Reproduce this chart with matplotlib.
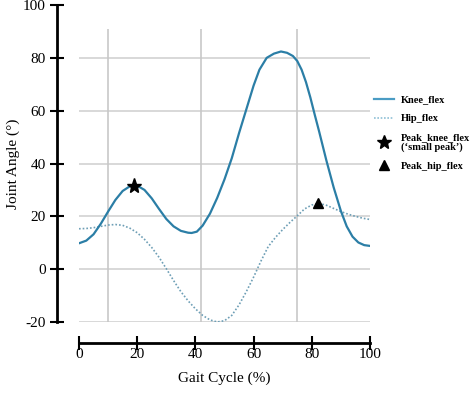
import numpy as np
import matplotlib.pyplot as plt
from matplotlib.lines import Line2D

# Knee flexion (deg) over the gait cycle (%)
knee_gait = [0, 2.5, 5, 7.5, 10, 12.5, 15, 17.5, 19, 20.5, 22.5, 25, 27.5, 30, 32.5, 35,
             37.5, 38.7, 40.5, 42.5, 45, 47.5, 50, 52.5, 55, 57.5, 60, 62, 64.5, 67, 69.4,
             71.5, 73.5, 75, 76.5, 78, 79.5, 81, 82.5, 85, 87.5, 90, 92, 94, 96, 98, 100]
knee_flex = [9.8, 10.8, 13.2, 17.2, 21.8, 26.2, 29.6, 31.4, 31.6, 31.3, 30.0, 26.8, 22.8,
             19.0, 16.2, 14.5, 13.8, 13.7, 14.2, 16.5, 21.0, 27.0, 34.0, 42.0, 51.5, 60.5,
             69.5, 75.5, 80.0, 81.6, 82.4, 81.9, 80.7, 78.8, 75.5, 70.8, 65.0, 58.5, 52.2,
             41.2, 31.0, 22.0, 16.2, 12.3, 10.1, 9.1, 8.8]

# Hip flexion (deg) over the gait cycle (%)
hip_gait = [0, 2.5, 5, 7.5, 10, 12.5, 15, 17.5, 20, 22.5, 25, 27.5, 30, 32.5, 35, 37.5, 40,
            42.5, 45, 47.5, 50, 52.5, 55, 57.5, 60, 62.5, 65, 67.5, 70, 72.5, 75, 77.5, 80,
            82.5, 85, 87.5, 90, 92.5, 95, 97.5, 100]
hip_flex = [15.3, 15.4, 15.7, 16.2, 16.7, 16.9, 16.6, 15.5, 13.8, 11.3, 8.2, 4.5, 0.2,
            -4.3, -8.5, -12.0, -15.0, -17.5, -19.2, -20.0, -19.5, -17.5, -13.5, -8.5, -3.0,
            3.0, 8.5, 12.0, 15.0, 17.7, 20.2, 22.8, 24.3, 24.9, 24.2, 23.0, 21.8, 20.8,
            20.0, 19.3, 18.8]

# Peaks
peak_knee = (19, 31.6)
peak_hip = (82, 24.9)

# Gait events (vertical lines)
events = [10, 42, 75]

xticks = [0, 20, 40, 60, 80, 100]
yticks = [-20, 0, 20, 40, 60, 80, 100]

knee_color = '#2b7ea6'
hip_color = '#6e9fb6'

plt.rcParams['font.family'] = ['Liberation Serif', 'DejaVu Serif']
plt.rcParams['axes.unicode_minus'] = False

W, H = 474, 399
fig = plt.figure(figsize=(W / 100, H / 100), dpi=100)
# axes box in pixels: x 79..370, y 5..322 (from top)
ax = fig.add_axes([79 / W, (H - 322) / H, 291 / W, 317 / H])
ax.set_xlim(0, 100)
ax.set_ylim(-20, 100)

# grid
ax.hlines(yticks[:-1], 0, 100, color='#d2d2d2', lw=1.2, zorder=0)
ax.vlines(events, -20, 91, color='#c8c8c8', lw=1.2, zorder=0)

ax.plot(knee_gait, knee_flex, color=knee_color, lw=1.6, zorder=3)
ax.plot(hip_gait, hip_flex, color=hip_color, lw=1.2, ls=(0, (1, 1.2)), zorder=2)
ax.plot(*peak_knee, marker='*', color='black', ms=11, ls='none', zorder=4)
ax.plot(*peak_hip, marker='^', color='black', ms=7, ls='none', zorder=4)

for s in ['top', 'right']:
    ax.spines[s].set_visible(False)
ax.spines['left'].set_position(('outward', 16))
ax.spines['bottom'].set_position(('outward', 15))
ax.spines['left'].set_bounds(-20, 100)
ax.spines['bottom'].set_bounds(0, 100)
for s in ['left', 'bottom']:
    ax.spines[s].set_linewidth(2)

ax.set_xticks(xticks)
ax.set_yticks(yticks)
ax.tick_params(direction='inout', length=10, width=1.5, labelsize=11)
ax.tick_params(axis='x', pad=-1)
ax.tick_params(axis='y', pad=3)
ax.set_xlabel('Gait Cycle (%)', fontsize=11)
ax.set_ylabel('Joint Angle (°)', fontsize=11)
ax.xaxis.set_label_coords(0.5, -0.155)
ax.yaxis.set_label_coords(-0.203, 0.5)

handles = [
    Line2D([], [], color='#4a9cc4', lw=1.6),
    Line2D([], [], color='#8fc0d6', lw=1.2, ls=(0, (1, 1))),
    Line2D([], [], marker='*', color='black', ms=10, ls='none'),
    Line2D([], [], marker='^', color='black', ms=7, ls='none'),
]
labels = ['Knee_flex', 'Hip_flex', 'Peak_knee_flex\n(\u2018small peak\u2019)', 'Peak_hip_flex']
leg = fig.legend(handles, labels, loc='upper left', bbox_to_anchor=(374 / W, 1 - 95 / H),
                 frameon=False, prop={'weight': 'bold', 'size': 7.5}, handlelength=1.9,
                 handletextpad=0.7, labelspacing=0.95, borderaxespad=0, borderpad=0)
leg.get_texts()[2].set_linespacing(0.95)

fig.savefig('out.png', dpi=100)
